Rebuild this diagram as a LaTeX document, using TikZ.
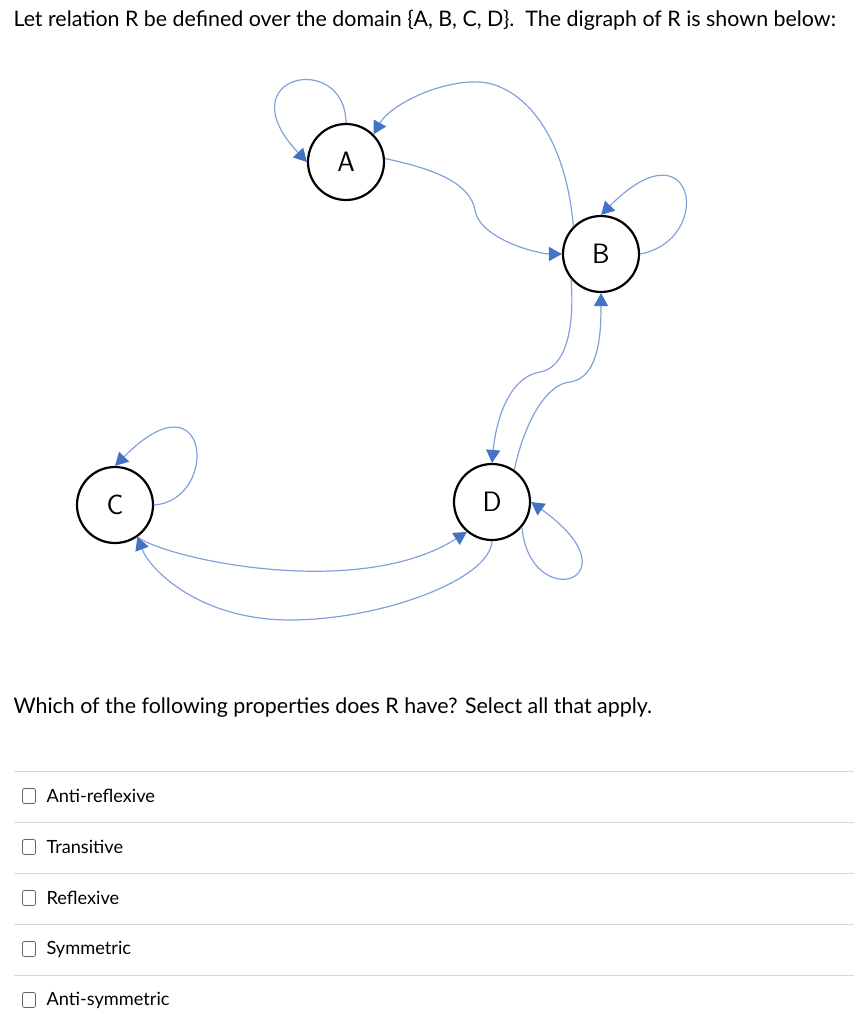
\documentclass[tikz,border=0pt]{standalone}
\usepackage{fontspec}
\setmainfont{Lato}
\usetikzlibrary{arrows.meta}
\definecolor{edge}{RGB}{130,160,220}
\definecolor{tip}{RGB}{68,114,196}
\definecolor{rule}{RGB}{215,215,215}
\begin{document}
\begin{tikzpicture}[x=1pt,y=-1pt,
  st/.style={circle,draw=black,line width=2.2pt,minimum size=76pt,inner sep=0pt,font=\fontsize{28}{30}\selectfont\sffamily},
  ed/.style={draw=edge,line width=1.2pt,-{Triangle[length=13pt,width=14pt,color=tip]}},
  opt/.style={anchor=west,font=\fontsize{18.2}{21}\selectfont},
  box/.style={draw=black!60,rounded corners=2pt,minimum width=13pt,minimum height=15pt,inner sep=0pt,line width=0.8pt}]
\useasboundingbox (0,0) rectangle (854,1024);
\node[anchor=west,font=\fontsize{21.4}{25}\selectfont] (title) at (10,20) {Let relation R be defined over the domain \{A, B, C, D\}.\ \ The digraph of R is shown below:};
\node[st] (A) at (346,162) {A};
\node[st] (B) at (601,254) {B};
\node[st] (C) at (115,505) {C};
\node[st] (D) at (492,502) {D};
% loops
\draw[ed] (A.90) .. controls (345,50) and (225,75) .. (A.180);
\draw[ed] (B.0) .. controls (715,240) and (695,120) .. (B.90);
\draw[ed] (C.0) .. controls (220,500) and (210,370) .. (C.90);
\draw[ed] (D.-40) .. controls (530,615) and (640,580) .. (D.0);
% A<->B
\draw[ed] (A.5) .. controls (440,170) and (470,185) .. (475,210) .. controls (480,240) and (540,254) .. (B.180);
\draw[ed] (B.135) .. controls (565,130) and (520,85) .. (480,82) .. controls (440,80) and (390,105) .. (A.45);
% B<->D
\draw[ed] (B.-140) .. controls (575,330) and (565,368) .. (540,372) .. controls (505,378) and (495,430) .. (D.90);
\draw[ed] (D.55) .. controls (520,440) and (540,385) .. (570,382) .. controls (600,378) and (601,330) .. (B.-90);
% C<->D
\draw[ed] (C.-55) .. controls (170,560) and (360,600) .. (D.-130);
\draw[ed] (D.-90) .. controls (490,580) and (380,620) .. (290,620) .. controls (200,620) and (150,570) .. (C.-55);
\node[anchor=west,font=\fontsize{21.4}{25}\selectfont] (q) at (10,708) {Which of the following properties does R have? Select all that apply.};
\foreach \y/\t [count=\i] in {796/Anti-reflexive,847/Transitive,898/Reflexive,949/Symmetric,1000/Anti-symmetric}{
  \draw[rule] (14,\y-25) -- (854,\y-25);
  \node[box] (b\i) at (29,\y) {};
  \node[opt] (o\i) at (43,\y) {\t};
}
\end{tikzpicture}
\end{document}
